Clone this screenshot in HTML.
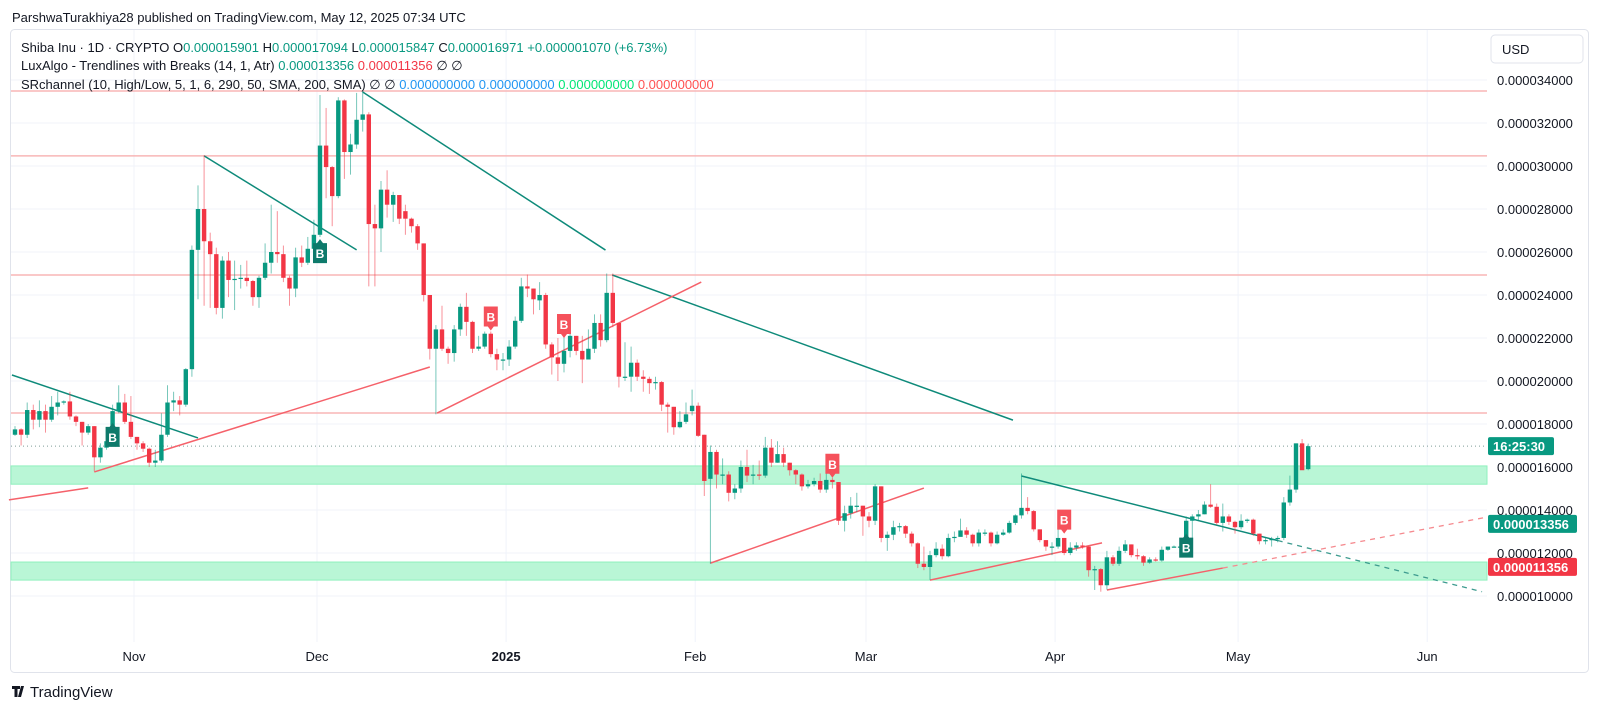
<!DOCTYPE html>
<html><head><meta charset="utf-8"><style>
html,body{margin:0;padding:0;background:#fff;}
body{width:1600px;height:712px;overflow:hidden;font-family:"Liberation Sans",sans-serif;}
svg text{font-family:"Liberation Sans",sans-serif;}
</style></head><body>
<svg id="chart" width="1600" height="712" viewBox="0 0 1600 712" xmlns="http://www.w3.org/2000/svg">
<text x="12" y="22" font-size="13" fill="#131722">ParshwaTurakhiya28 published on TradingView.com, May 12, 2025 07:34 UTC</text>
<rect x="10.5" y="29.5" width="1578" height="643" rx="4" fill="none" stroke="#e0e3eb"/>
<g id="grid"></g>
<g id="zones"></g>
<g id="lines"></g>
<g id="candles"></g>
<g id="marks"></g>
<g id="axis"></g>
<g id="xaxis"></g>
<g font-size="13">
<text x="21" y="52" fill="#131722">Shiba Inu · 1D · CRYPTO  O<tspan fill="#089981">0.000015901</tspan>  H<tspan fill="#089981">0.000017094</tspan>  L<tspan fill="#089981">0.000015847</tspan>  C<tspan fill="#089981">0.000016971</tspan>  <tspan fill="#089981">+0.000001070 (+6.73%)</tspan></text>
<text x="21" y="70" fill="#131722">LuxAlgo - Trendlines with Breaks (14, 1, Atr)  <tspan fill="#089981">0.000013356</tspan>  <tspan fill="#f23645">0.000011356</tspan>  ∅  ∅</text>
<text x="21" y="89" fill="#131722">SRchannel (10, High/Low, 5, 1, 6, 290, 50, SMA, 200, SMA)  ∅  ∅  <tspan fill="#2196f3">0.000000000</tspan>  <tspan fill="#2196f3">0.000000000</tspan>  <tspan fill="#00e676">0.000000000</tspan>  <tspan fill="#ff5252">0.000000000</tspan></text>
</g>
<g>
<rect x="1491" y="35" width="92" height="28" rx="4" fill="#fff" stroke="#e0e3eb"/>
<text x="1502" y="54" font-size="13" fill="#131722">USD</text>
</g>
<g>
<path d="M12 686h8v3h-2.5v8h-3v-8H12zM21 686h3l-3 11h-3z" fill="#131722"/>
<text x="30" y="697" font-size="15" fill="#131722">TradingView</text>
</g>
</svg>
<script>
const opens=[17.5,17.75,17.5,18.65,18.2,18.6,18.2,18.8,19.0,19.05,18.35,18.1,17.6,17.9,16.45,16.9,17.2,18.6,19.0,18.1,17.4,17.1,16.85,16.2,16.3,17.5,19.0,19.1,18.9,20.55,26.1,28.0,26.5,25.9,23.4,25.6,24.7,24.75,24.8,24.65,23.9,24.8,25.5,26.0,25.9,24.8,24.3,25.75,25.5,26.15,26.8,30.95,29.95,28.6,33.05,30.65,31.0,32.15,32.4,27.3,27.1,28.9,28.2,28.65,27.9,27.55,27.2,26.4,24.0,21.5,22.4,21.5,21.3,22.4,23.45,22.75,21.5,21.6,22.2,21.25,21.0,21.0,21.6,22.8,24.4,24.3,23.75,24.0,21.7,21.1,20.8,21.4,22.1,21.4,21.0,21.5,22.7,21.9,24.1,22.7,20.2,20.2,20.85,20.2,20.1,19.9,19.95,18.9,18.8,17.85,18.1,18.6,18.85,17.5,15.45,16.7,15.65,15.65,14.8,15.0,16.0,15.6,15.65,15.6,16.9,16.2,16.6,16.2,15.85,15.65,15.1,15.2,15.35,14.95,15.4,15.3,13.5,13.85,14.2,14.2,13.7,13.5,15.1,12.7,12.85,13.2,13.25,12.9,12.45,11.5,11.35,11.9,12.2,11.85,12.7,12.75,13.05,12.85,12.45,12.95,12.95,12.45,12.85,12.95,13.4,13.75,14.1,13.95,13.1,12.6,12.3,12.3,12.7,12.0,12.25,12.35,12.3,11.2,11.25,10.5,11.8,11.5,12.1,12.4,11.9,11.85,11.55,11.7,11.65,12.15,12.3,12.3,12.3,13.5,13.7,13.8,14.25,14.15,13.4,13.7,13.45,13.2,13.5,13.55,12.9,12.55,12.6,12.65,12.7,14.35,14.95,17.1,15.9];
const highs=[17.9,17.8,19.0,18.9,19.1,18.9,19.3,19.5,19.1,19.5,18.4,18.1,18.0,17.9,17.1,17.4,18.9,19.8,19.4,19.3,17.4,17.2,16.9,16.8,18.5,19.8,19.5,19.3,20.6,26.3,29.1,30.5,26.9,26.2,25.8,26.0,25.6,25.4,25.6,24.7,24.9,26.4,28.2,27.9,26.3,24.9,26.2,26.3,26.7,27.5,33.3,32.7,30.0,33.2,33.1,31.5,33.4,33.5,32.5,28.2,29.3,29.8,28.8,28.6,28.2,27.6,27.3,26.4,23.3,22.6,23.5,21.6,22.6,23.6,24.1,22.8,22.1,22.3,22.3,21.5,21.3,21.9,23.0,24.8,24.95,24.3,24.6,24.1,21.8,22.0,22.1,22.6,22.1,22.1,22.4,23.1,23.1,25.0,25.0,22.6,21.8,21.6,21.0,20.5,20.2,20.2,20.0,19.0,18.8,18.6,19.0,19.6,19.0,17.5,17.0,16.8,16.4,15.8,15.2,16.3,16.8,16.1,16.3,17.4,17.3,17.2,16.9,16.2,15.9,15.7,15.4,15.5,15.7,15.8,15.5,15.3,14.2,14.6,14.8,14.2,13.9,15.2,15.1,13.0,13.5,13.4,13.3,13.0,12.5,12.3,12.1,12.5,12.4,12.9,13.0,13.6,13.2,12.9,13.1,13.1,13.0,13.0,13.1,13.5,13.8,15.7,14.6,14.0,13.1,12.6,12.5,13.3,12.7,12.5,12.5,12.5,12.3,11.4,11.3,12.1,11.9,12.3,12.6,12.4,12.2,11.9,11.8,11.8,12.3,12.3,12.35,12.35,13.7,13.8,14.0,14.4,15.2,14.3,14.3,13.8,13.5,13.8,13.6,13.6,12.9,12.7,12.75,12.8,14.6,15.6,17.1,17.3,17.09];
const lows=[17.45,17.0,17.35,17.75,17.85,17.6,18.1,18.4,18.9,18.2,17.9,17.0,17.5,15.8,16.2,16.8,17.1,18.5,18.0,17.3,16.8,16.7,16.0,16.0,16.2,17.4,18.6,18.4,18.8,20.2,23.8,23.5,23.4,23.1,22.9,23.9,23.3,24.3,24.4,23.5,23.4,24.7,25.0,25.5,24.6,23.5,23.9,25.3,25.4,26.0,26.7,28.5,27.2,28.5,29.4,29.6,30.8,31.6,24.4,24.4,26.0,27.6,27.4,27.3,26.8,26.9,26.1,23.7,21.0,18.45,21.4,20.8,20.9,22.1,22.1,21.3,21.4,21.5,21.1,20.5,20.5,20.7,21.5,22.7,23.9,23.1,23.3,21.5,20.3,20.0,20.4,21.1,21.2,19.9,21.0,21.3,21.6,21.8,22.5,19.7,20.0,19.5,20.0,19.5,19.4,19.6,18.6,17.6,17.5,17.8,18.0,18.4,17.4,14.65,11.5,15.0,15.2,14.4,14.5,14.8,15.3,15.2,15.4,15.5,16.0,16.2,16.0,15.6,15.2,14.9,15.0,15.1,14.8,14.8,15.0,13.3,13.0,13.6,13.9,12.8,13.2,13.3,12.5,12.1,12.6,13.0,12.7,12.3,11.3,11.2,10.75,11.8,11.7,11.8,12.5,12.8,12.7,12.3,12.3,12.8,12.3,12.4,12.8,12.9,13.3,13.6,13.8,13.0,12.5,12.1,11.9,12.2,11.9,11.9,12.1,12.2,10.9,10.28,10.2,10.3,11.4,11.4,12.0,11.8,11.7,11.4,11.5,11.6,11.6,12.1,12.25,12.2,12.2,12.6,13.5,13.8,14.1,13.3,13.0,13.3,12.9,13.1,13.4,12.8,12.4,12.4,12.3,12.5,12.6,14.2,14.8,15.9,15.85];
const closes=[17.75,17.5,18.65,18.2,18.6,18.2,18.8,19.0,19.05,18.35,18.1,17.6,17.9,16.45,16.9,17.2,18.6,19.0,18.1,17.4,17.1,16.85,16.2,16.3,17.5,19.0,19.1,18.9,20.55,26.1,28.0,26.5,25.9,23.4,25.6,24.7,24.75,24.8,24.65,23.9,24.8,25.5,26.0,25.9,24.8,24.3,25.75,25.5,26.15,26.8,30.95,29.95,28.6,33.05,30.65,31.0,32.15,32.4,27.3,27.1,28.9,28.2,28.65,27.55,27.55,27.2,26.4,24.0,21.5,22.4,21.5,21.3,22.4,23.45,22.75,21.5,21.6,22.2,21.25,21.0,21.0,21.6,22.8,24.4,24.3,23.8,24.0,21.7,21.1,20.8,21.4,22.1,21.4,21.0,21.5,22.7,21.9,24.1,22.7,20.2,20.2,20.85,20.2,20.1,19.9,19.95,18.9,18.8,17.85,18.1,18.45,18.85,17.45,15.35,16.7,15.65,15.65,14.8,15.0,16.0,15.6,15.65,15.6,16.9,16.2,16.6,16.2,15.85,15.65,15.1,15.2,15.35,14.95,15.4,15.3,13.5,13.85,14.2,14.2,13.7,13.5,15.1,12.7,12.85,13.2,13.25,12.9,12.45,11.5,11.35,11.9,12.2,11.85,12.7,12.75,13.05,12.85,12.45,12.95,12.95,12.45,12.85,12.95,13.4,13.75,14.1,13.95,13.1,12.6,12.3,12.3,12.7,12.0,12.25,12.35,12.3,11.2,11.25,10.5,11.8,11.5,12.1,12.4,11.9,11.85,11.55,11.7,11.65,12.15,12.3,12.3,12.3,13.5,13.7,13.8,14.25,14.15,13.4,13.7,13.45,13.2,13.5,13.55,12.9,12.55,12.6,12.65,12.7,14.35,14.95,17.1,15.85,16.97];
const priceTicks=[10,12,14,16,18,20,22,24,26,28,30,32,34];
const priceTickLabels=["0.000010000","0.000012000","0.000014000","0.000016000","0.000018000","0.000020000","0.000022000","0.000024000","0.000026000","0.000028000","0.000030000","0.000032000","0.000034000"];
const monthIdx=[20,50,81,112,140,171,201,232];
const monthLabels=["Nov","Dec","2025","Feb","Mar","Apr","May","Jun"];
const srLevels=[33.49,30.47,24.93,18.51];
const zoneTop=[16.05,11.58];
const zoneBottom=[15.2,10.74];
const tealLines=[[-0.5,20.28,30,17.35],[31,30.47,56,26.1],[57,33.44,96.8,26.09],[97.9,24.93,163.6,18.18],[165,15.58,207,12.58]];
const redLines=[[-1,14.47,12,15.03],[13,15.77,68,20.65],[69.2,18.51,112.5,24.6],[114,11.53,149,15.02],[150,10.74,178.2,12.47],[179,10.28,198,11.3]];
const tealDash=[207,12.58,240.5,10.2];
const redDash=[198,11.3,241.3,13.67];
const breakUpIdx=[16,50,192];
const breakUpPrice=[18.05,26.6,12.9];
const breakDnIdx=[78,90,134,172];
const breakDnPrice=[22.35,22.0,15.5,12.9];
const lastPrice=16.971, upperVal=13.356, lowerVal=11.356;

const NS="http://www.w3.org/2000/svg";
function X(i){return 15+6.1*i;}
function Y(v){return 596-(v-10)*21.5;}
function mk(tag,attrs,parent){const e=document.createElementNS(NS,tag);for(const k in attrs)e.setAttribute(k,attrs[k]);parent.appendChild(e);return e;}
const G=id=>document.getElementById(id);
const PL=11,PR=1487;
priceTicks.forEach((v,k)=>{
  const l=mk('line',{x1:PL,x2:PR,y1:Y(v),y2:Y(v),stroke:'#f0f3fa','stroke-width':1},G('grid'));
  
  
  const t=mk('text',{x:1497,y:Y(v)+5,'font-size':13,fill:'#131722'},G('axis'));
  t.textContent=priceTickLabels[k];
  
  
});
monthIdx.forEach((m,k)=>{
  const l=mk('line',{x1:X(m)-3,x2:X(m)-3,y1:30,y2:642,stroke:'#f0f3fa','stroke-width':1},G('grid'));
  
  
  const t=mk('text',{x:X(m)-3,y:661,'font-size':13,fill:'#131722','text-anchor':'middle','font-weight':monthLabels[k]==='2025'?'bold':'normal'},G('xaxis'));
  t.textContent=monthLabels[k];
  
  
});
zoneTop.forEach((t,k)=>{
  const r=mk('rect',{x:PL,y:Y(t),width:PR-PL,height:Y(zoneBottom[k])-Y(t),fill:'#b9f6d6',stroke:'#8ff0bd','stroke-width':1},G('zones'));
  
  
});
srLevels.forEach(v=>{
  const l=mk('line',{x1:PL,x2:PR,y1:Y(v),y2:Y(v),stroke:'#f8b6b6','stroke-width':1.5},G('zones'));
  
  
});
const dl=mk('line',{x1:PL,x2:PR,y1:Y(lastPrice),y2:Y(lastPrice),stroke:'#7f9c96','stroke-width':1,'stroke-dasharray':'1 3'},G('zones'));


tealLines.forEach(s=>{
  const l=mk('line',{x1:X(s[0]),y1:Y(s[1]),x2:X(s[2]),y2:Y(s[3]),stroke:'#0e8a7a','stroke-width':1.5},G('lines'));
  
  
});
redLines.forEach(s=>{
  const l=mk('line',{x1:X(s[0]),y1:Y(s[1]),x2:X(s[2]),y2:Y(s[3]),stroke:'#f5616a','stroke-width':1.5},G('lines'));
  
  
});
const td=mk('line',{x1:X(tealDash[0]),y1:Y(tealDash[1]),x2:X(tealDash[2]),y2:Y(tealDash[3]),stroke:'#3d9b8f','stroke-width':1.3,'stroke-dasharray':'5 5'},G('lines'));


const rd=mk('line',{x1:X(redDash[0]),y1:Y(redDash[1]),x2:X(redDash[2]),y2:Y(redDash[3]),stroke:'#f58a8f','stroke-width':1.3,'stroke-dasharray':'5 5'},G('lines'));


closes.forEach((c,i)=>{
  const o=opens[i],h=highs[i],lo=lows[i];
  const col=c>=o?'#089981':'#f23645';
  const g=mk('g',{},G('candles'));
  
  
  mk('line',{x1:X(i),x2:X(i),y1:Y(h),y2:Y(lo),stroke:col,'stroke-width':1,'stroke-opacity':0.55},g);
  const top=Y(Math.max(o,c)),bot=Y(Math.min(o,c));
  mk('rect',{x:X(i)-2.2,y:top,width:4.4,height:Math.max(1.2,bot-top),fill:col},g);
});
breakUpIdx.forEach((i,k)=>{
  const g=mk('g',{},G('marks'));
  
  
  const x=X(i),y=Y(breakUpPrice[k]);
  mk('path',{d:`M${x-7} ${y+4}h4l3-4l3 4h4v20h-14z`,fill:'#0e7a6b'},g);
  const t=mk('text',{x:x,y:y+19,'font-size':12,'font-weight':'bold',fill:'#fff','text-anchor':'middle'},g);
  t.textContent='B';
});
breakDnIdx.forEach((i,k)=>{
  const g=mk('g',{},G('marks'));
  
  
  const x=X(i),y=Y(breakDnPrice[k]);
  mk('path',{d:`M${x-7} ${y-24}h14v20h-4l-3 4l-3-4h-4z`,fill:'#f5515b'},g);
  const t=mk('text',{x:x,y:y-9,'font-size':12,'font-weight':'bold',fill:'#fff','text-anchor':'middle'},g);
  t.textContent='B';
});
function tag(v,label,bg,name,w){
  const g=mk('g',{},G('axis'));
  
  
  mk('rect',{x:1488,y:Y(v)-9,width:w,height:18,rx:2,fill:bg},g);
  const t=mk('text',{x:1493,y:Y(v)+5,'font-size':13,'font-weight':'bold',fill:'#fff'},g);
  t.textContent=label;
}
tag(lastPrice,'16:25:30','#089981','countdown-tag',66);
tag(upperVal,'0.000013356','#089981','upper-trend-tag',89);
tag(lowerVal,'0.000011356','#f23645','lower-trend-tag',89);
</script>
</body></html>
